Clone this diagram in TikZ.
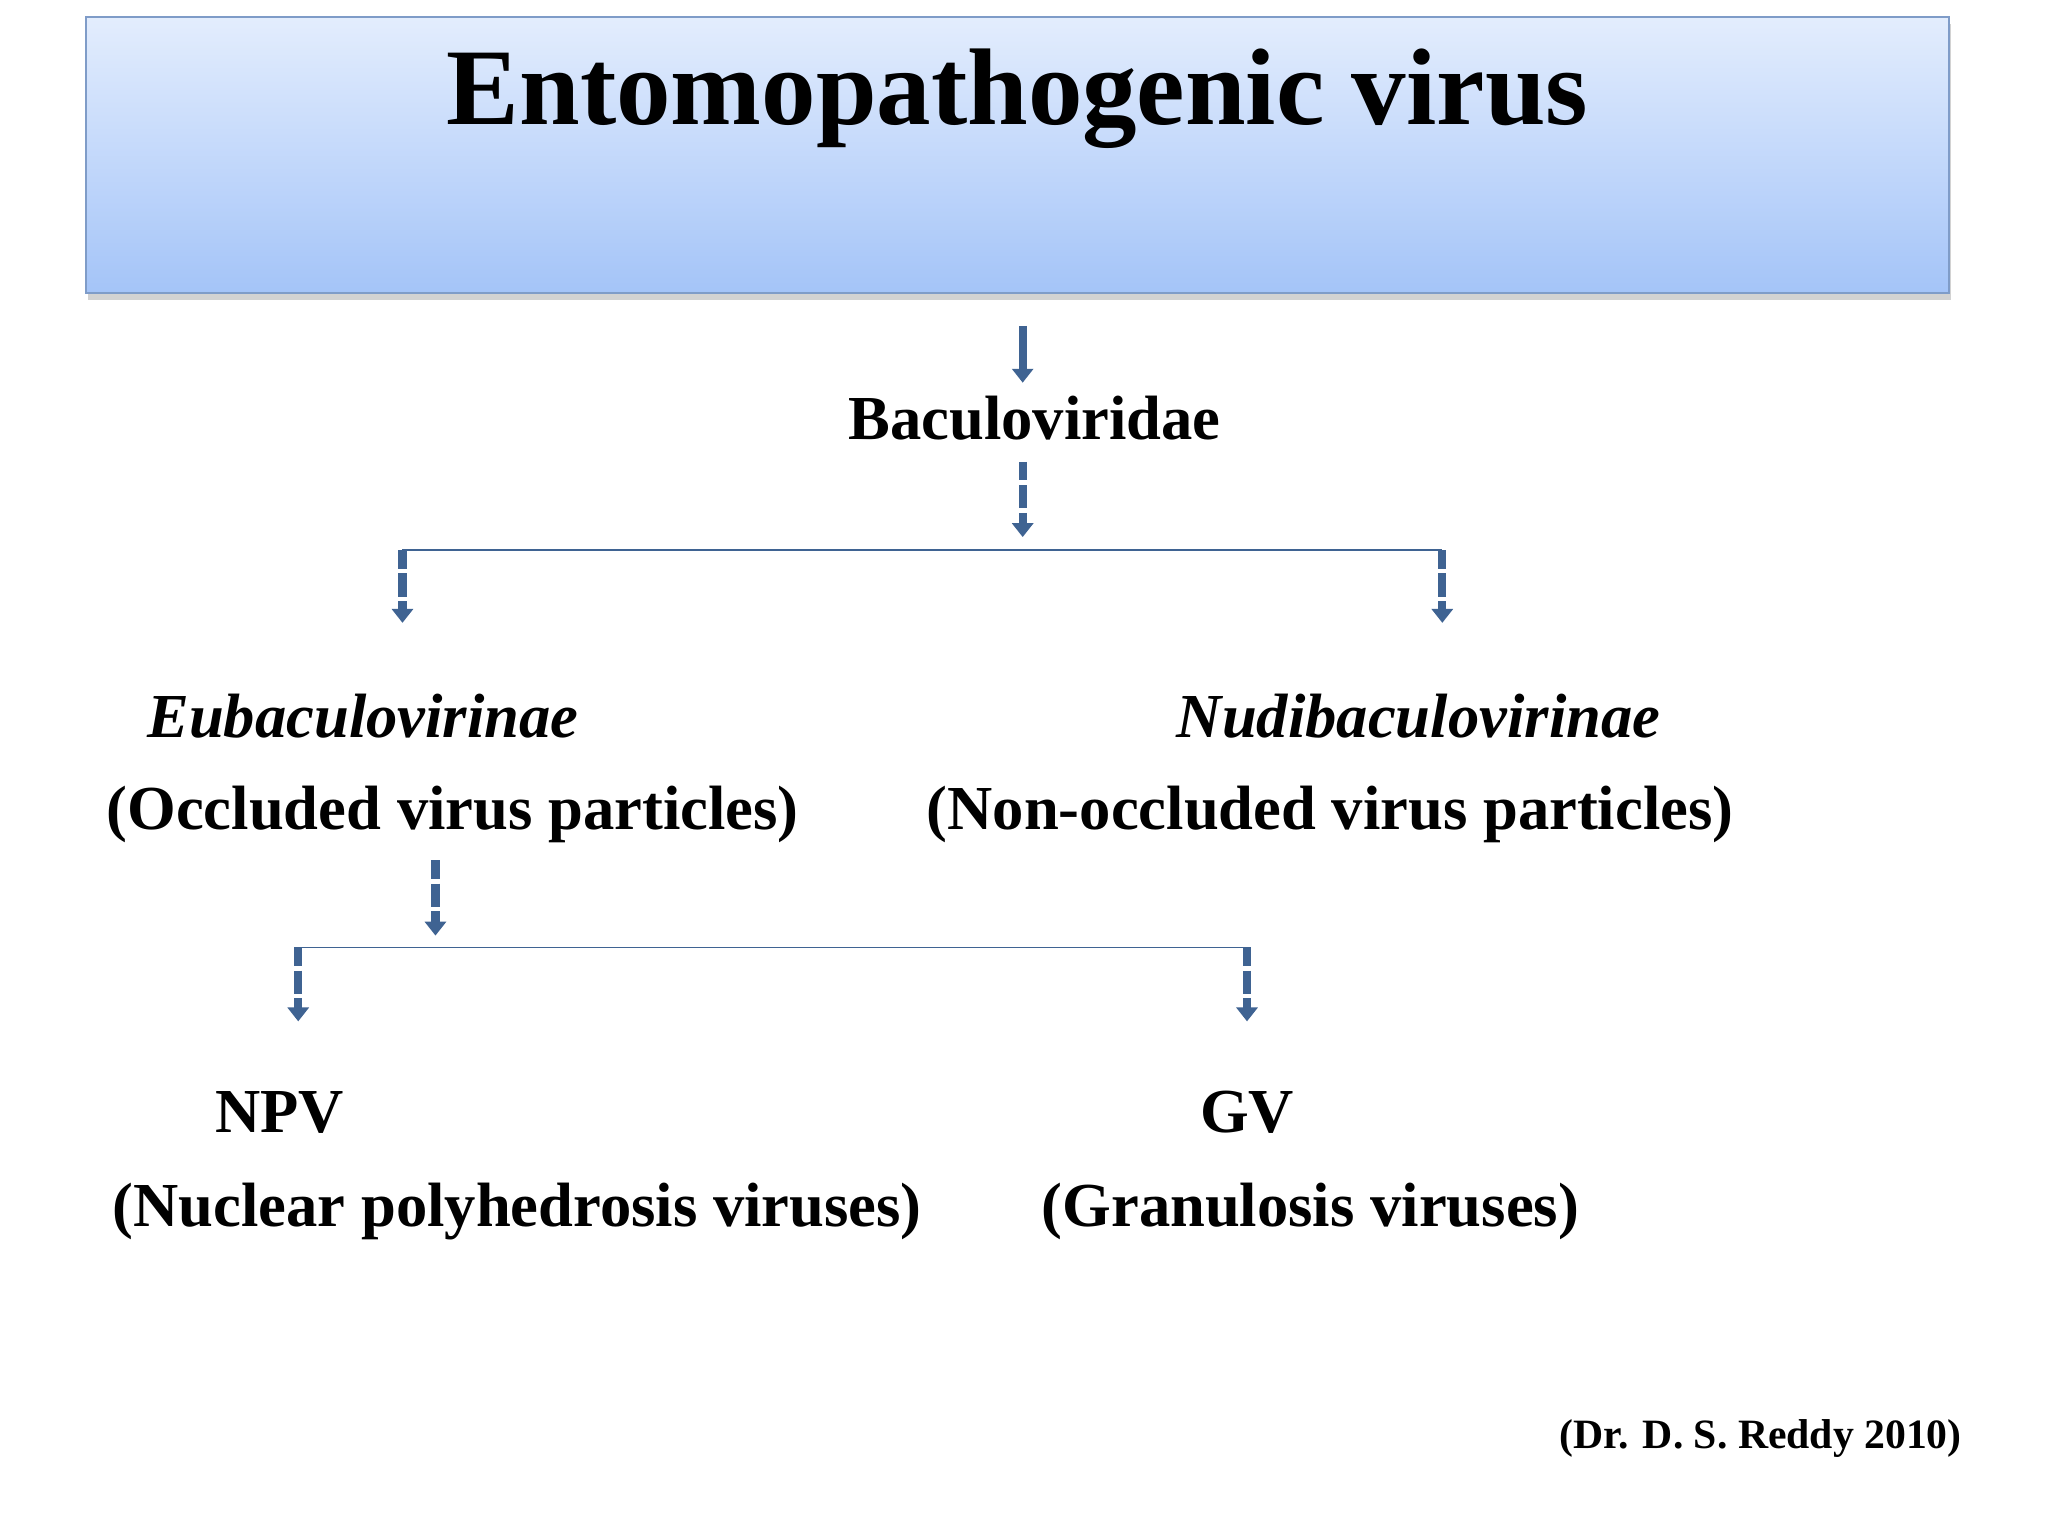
\documentclass[tikz,border=0pt]{standalone}
\usepackage{fontspec}
\setmainfont{Liberation Serif}
\usetikzlibrary{arrows.meta,shadows}
\definecolor{arr}{HTML}{3F6392}
\definecolor{btop}{HTML}{E3EDFD}
\definecolor{bbot}{HTML}{A4C4F8}
\definecolor{bline}{HTML}{7F9CC8}
\tikzset{
  px/.style={x=0.02cm,y=-0.02cm},
  lbl/.style={font=\fontsize{27}{30}\selectfont\bfseries, inner sep=0pt, anchor=center},
  thk/.style={arr, line width=3.5pt, -{Triangle[width=9pt,length=6pt]}},
  dsh/.style={thk, dash pattern=on 8pt off 2pt on 10pt off 2pt},
  thn/.style={arr, line width=0.8pt}
}
\begin{document}
\begin{tikzpicture}[px]
\useasboundingbox (0,0) rectangle (1552,1164);
\fill[white] (0,0) rectangle (1552,1164);
\node[draw=bline, line width=1pt, top color=btop, bottom color=bbot, minimum width=1412*0.02cm, minimum height=209*0.02cm, inner sep=0pt, drop shadow={shadow xshift=1pt, shadow yshift=-3pt, opacity=0.35}] (title) at (771,117.5) {};
\node[font=\fontsize{47}{52}\selectfont\bfseries] (tt) at (771,75) {Entomopathogenic virus};
\coordinate (a1s) at (775,247);
\coordinate (a1e) at (775,290);
\draw[thk] (a1s) -- (a1e);
\node[lbl] (bac) at (784,317) {Baculoviridae};
\coordinate (a2s) at (775,350);
\coordinate (a2e) at (775,407);
\draw[dsh] (a2s) -- (a2e);
\coordinate (h1l) at (305,417);
\coordinate (h1r) at (1093,417);
\draw[thn] (h1l) -- (h1r);
\coordinate (l1e) at (305,472);
\coordinate (r1e) at (1093,472);
\draw[dsh] (h1l) -- (l1e);
\draw[dsh] (h1r) -- (r1e);
\node[lbl, font=\fontsize{27}{30}\selectfont\bfseries\itshape] (eub) at (275,543) {Eubaculovirinae};
\node[lbl] (occ) at (343,617) {(Occluded virus particles)};
\node[lbl, font=\fontsize{27}{30}\selectfont\bfseries\itshape] (nud) at (1075,543) {Nudibaculovirinae};
\node[lbl] (non) at (1008,617) {(Non-occluded virus particles)};
\coordinate (a3s) at (330,652);
\coordinate (a3e) at (330,709);
\draw[dsh] (a3s) -- (a3e);
\coordinate (h2l) at (226,718);
\coordinate (h2r) at (945,718);
\draw[thn] (h2l) -- (h2r);
\coordinate (l2e) at (226,774);
\coordinate (r2e) at (945,774);
\draw[dsh] (h2l) -- (l2e);
\draw[dsh] (h2r) -- (r2e);
\node[lbl] (npv) at (212,843) {NPV};
\node[lbl] (npvt) at (392,918) {(Nuclear polyhedrosis viruses)};
\node[lbl] (gv) at (945,843) {GV};
\node[lbl] (gvt) at (993,918) {(Granulosis viruses)};
\node[font=\fontsize{18}{20}\selectfont\bfseries, inner sep=0pt, anchor=east] (ref) at (1487,1090) {(Dr. D. S. Reddy 2010)};
\end{tikzpicture}
\end{document}
